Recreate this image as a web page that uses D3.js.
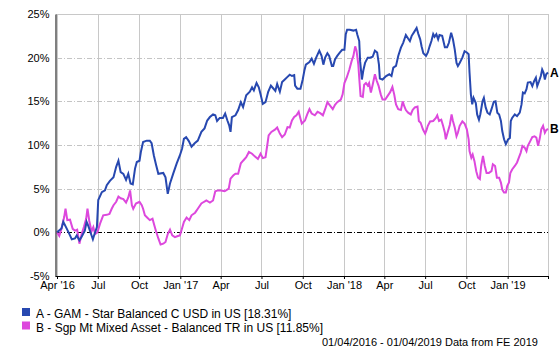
<!DOCTYPE html>
<html><head><meta charset="utf-8">
<script src="https://cdn.jsdelivr.net/npm/d3@7"></script>
<style>
body{margin:0;background:#fff;}
svg{display:block;font-family:"Liberation Sans",Arial,sans-serif;}
</style></head>
<body><svg id="c" width="559" height="357"></svg>
<script>
// ---- data ----
const seriesNames = ["A - GAM - Star Balanced C USD in US [18.31%]", "B - Sgp Mt Mixed Asset - Balanced TR in US [11.85%]"];
const seriesLetters = ["A", "B"];
const yTicks = [-5, 0, 5, 10, 15, 20, 25];
const xTickDates = ["2016-04-01","2016-07-01","2016-10-01","2017-01-01","2017-04-01","2017-07-01","2017-10-01","2018-01-01","2018-04-01","2018-07-01","2018-10-01","2019-01-01","2019-04-01"];
const xTickLabels = ["Apr '16","Jul","Oct","Jan '17","Apr","Jul","Oct","Jan '18","Apr","Jul","Oct","Jan '19",""];
const footerText = "01/04/2016 - 01/04/2019 Data from FE 2019";

const seriesA = [
["2016-04-01",0],["2016-04-11",0.45],["2016-04-15",1.2],["2016-04-23",0.4],["2016-04-30",-0.35],["2016-05-04",-0.8],["2016-05-11",-0.7],["2016-05-15",-0.35],["2016-05-21",-0.9],["2016-05-26",-0.5],
["2016-06-02",0.2],["2016-06-06",1.2],["2016-06-10",0.7],["2016-06-14",0.1],["2016-06-20",-0.8],["2016-06-23",-0.3],["2016-06-29",0.6],["2016-07-02",3.7],["2016-07-10",4.6],["2016-07-17",4.8],
["2016-07-21",5.4],["2016-07-28",5.9],["2016-08-05",6.3],["2016-08-11",7.5],["2016-08-16",8.2],["2016-08-21",6.9],["2016-08-27",6.7],["2016-09-02",6.0],["2016-09-07",6.7],["2016-09-12",5.6],
["2016-09-17",5.5],["2016-09-22",7.3],["2016-09-26",8.05],["2016-10-02",8.2],["2016-10-05",9.2],["2016-10-10",10.35],["2016-10-18",10.5],["2016-10-25",10.5],["2016-10-29",10.2],["2016-11-03",8.8],
["2016-11-08",7.7],["2016-11-13",6.7],["2016-11-24",6.8],["2016-11-29",6.3],["2016-12-04",4.4],["2016-12-09",5.6],["2016-12-16",6.7],["2016-12-24",7.9],["2016-12-31",8.8],["2017-01-05",9.6],
["2017-01-09",10.7],["2017-01-14",10.9],["2017-01-20",10.45],["2017-01-26",9.8],["2017-02-02",10.2],["2017-02-09",10.5],["2017-02-17",11.5],["2017-02-24",11.9],["2017-03-02",12.8],["2017-03-08",13.2],
["2017-03-15",13.5],["2017-03-20",13.4],["2017-03-24",12.75],["2017-03-30",13.1],["2017-04-06",13.1],["2017-04-11",13.6],["2017-04-16",12.8],["2017-04-20",12.25],["2017-04-23",11.5],["2017-04-26",13.2],
["2017-05-04",13.4],["2017-05-10",14.0],["2017-05-16",14.9],["2017-05-21",14.35],["2017-05-28",15.7],["2017-06-05",16.1],["2017-06-10",16.6],["2017-06-14",16.25],["2017-06-20",17.1],["2017-06-25",16.6],
["2017-06-29",15.8],["2017-07-04",14.7],["2017-07-10",14.9],["2017-07-16",16.1],["2017-07-22",16.8],["2017-07-27",16.5],["2017-08-01",16.2],["2017-08-05",17.0],["2017-08-11",16.1],["2017-08-16",17.2],
["2017-08-22",17.5],["2017-08-28",17.8],["2017-09-02",18.05],["2017-09-07",17.9],["2017-09-12",18.0],["2017-09-14",16.8],["2017-09-19",16.45],["2017-09-26",16.45],["2017-10-01",17.5],["2017-10-05",18.6],
["2017-10-08",19.2],["2017-10-16",19.5],["2017-10-21",19.9],["2017-10-26",19.3],["2017-10-31",20.0],["2017-11-07",20.8],["2017-11-12",20.2],["2017-11-16",19.2],["2017-11-20",20.0],["2017-11-25",20.5],
["2017-11-29",20.2],["2017-12-05",19.05],["2017-12-08",19.05],["2017-12-12",19.8],["2017-12-17",20.2],["2017-12-23",20.6],["2017-12-28",20.9],["2018-01-02",20.9],["2018-01-05",22.7],["2018-01-08",23.2],
["2018-01-14",23.2],["2018-01-22",23.1],["2018-01-28",23.2],["2018-01-31",22.6],["2018-02-04",21.9],["2018-02-06",19.6],["2018-02-10",17.5],["2018-02-13",18.5],["2018-02-17",19.4],["2018-02-23",20.0],
["2018-02-28",20.0],["2018-03-06",20.1],["2018-03-11",20.8],["2018-03-16",20.6],["2018-03-20",19.2],["2018-03-22",17.6],["2018-03-28",17.5],["2018-04-05",17.9],["2018-04-12",18.1],["2018-04-17",17.9],
["2018-04-21",18.85],["2018-04-27",19.05],["2018-05-02",20.2],["2018-05-08",21.15],["2018-05-13",21.7],["2018-05-19",22.6],["2018-05-24",22.2],["2018-05-28",21.9],["2018-06-01",22.5],["2018-06-06",22.9],
["2018-06-12",23.4],["2018-06-16",22.7],["2018-06-20",22.1],["2018-06-23",21.3],["2018-06-27",20.5],["2018-07-03",20.2],["2018-07-07",20.6],["2018-07-11",21.3],["2018-07-15",21.9],["2018-07-19",22.7],
["2018-07-22",22.4],["2018-07-26",22.7],["2018-07-30",22.1],["2018-08-02",22.6],["2018-08-08",22.5],["2018-08-14",21.2],["2018-08-19",21.2],["2018-08-23",21.7],["2018-08-28",22.85],["2018-09-01",22.1],
["2018-09-05",20.95],["2018-09-09",19.4],["2018-09-12",19.05],["2018-09-16",19.4],["2018-09-22",20.0],["2018-09-27",20.75],["2018-10-02",20.6],["2018-10-06",20.4],["2018-10-08",18.3],["2018-10-11",15.8],
["2018-10-14",14.65],["2018-10-17",15.4],["2018-10-22",14.8],["2018-10-25",13.5],["2018-10-29",12.9],["2018-11-01",13.5],["2018-11-06",15.0],["2018-11-09",15.4],["2018-11-13",14.3],["2018-11-17",13.7],
["2018-11-22",13.5],["2018-11-26",14.1],["2018-12-01",14.95],["2018-12-05",15.0],["2018-12-09",13.7],["2018-12-13",13.5],["2018-12-17",12.75],["2018-12-20",11.6],["2018-12-24",10.65],["2018-12-28",10.1],
["2019-01-02",10.65],["2019-01-06",10.8],["2019-01-08",12.75],["2019-01-11",13.1],["2019-01-17",13.5],["2019-01-22",13.3],["2019-01-28",13.7],["2019-02-01",14.65],["2019-02-04",16.0],["2019-02-08",15.9],
["2019-02-12",16.4],["2019-02-15",17.15],["2019-02-21",17.2],["2019-02-25",16.75],["2019-03-01",17.3],["2019-03-05",17.7],["2019-03-08",16.75],["2019-03-12",17.3],["2019-03-16",17.9],["2019-03-19",18.65],
["2019-03-22",18.3],["2019-03-25",17.5],["2019-03-28",18.1],["2019-04-01",18.31]
];

const seriesB = [
["2016-04-01",0],["2016-04-06",-0.4],["2016-04-11",0.4],["2016-04-17",1.75],["2016-04-20",2.7],["2016-04-24",1.4],["2016-04-30",1.45],["2016-05-06",0.4],["2016-05-11",0.2],["2016-05-16",0.3],
["2016-05-21",-1.3],["2016-05-26",-0.2],["2016-05-31",0.6],["2016-06-05",1.55],["2016-06-08",2.7],["2016-06-12",1.3],["2016-06-17",0.1],["2016-06-21",0.6],["2016-06-25",-0.2],["2016-06-30",0],
["2016-07-06",1.0],["2016-07-13",1.95],["2016-07-21",2.0],["2016-07-27",2.1],["2016-08-01",2.7],["2016-08-05",3.1],["2016-08-11",3.5],["2016-08-16",4.1],["2016-08-21",3.9],["2016-08-27",3.8],
["2016-09-02",3.4],["2016-09-07",4.0],["2016-09-11",4.8],["2016-09-15",3.1],["2016-09-18",2.7],["2016-09-24",3.3],["2016-10-02",3.5],["2016-10-07",3.1],["2016-10-10",2.7],["2016-10-14",1.95],
["2016-10-19",1.7],["2016-10-25",1.4],["2016-10-31",1.55],["2016-11-04",0.8],["2016-11-08",0.1],["2016-11-13",-0.7],["2016-11-18",-1.4],["2016-11-24",-1.3],["2016-11-29",-1.1],["2016-12-04",-0.2],
["2016-12-09",0.3],["2016-12-14",-0.35],["2016-12-20",-0.55],["2016-12-25",-0.45],["2016-12-31",-0.35],["2017-01-04",0.3],["2017-01-09",1.2],["2017-01-15",1.7],["2017-01-21",1.4],["2017-01-26",1.95],
["2017-02-03",2.25],["2017-02-09",2.7],["2017-02-17",3.3],["2017-02-23",3.5],["2017-02-28",3.65],["2017-03-08",3.4],["2017-03-15",3.65],["2017-03-20",4.7],["2017-03-26",4.8],["2017-04-02",4.8],
["2017-04-10",4.7],["2017-04-19",5.0],["2017-04-23",6.15],["2017-04-29",6.5],["2017-05-04",6.7],["2017-05-10",6.7],["2017-05-16",7.9],["2017-05-21",8.2],["2017-05-28",8.6],["2017-06-03",9.2],
["2017-06-10",9.0],["2017-06-16",8.7],["2017-06-23",8.4],["2017-06-29",9.0],["2017-07-04",8.5],["2017-07-10",8.6],["2017-07-14",10.0],["2017-07-17",11.1],["2017-07-23",11.5],["2017-07-31",11.75],
["2017-08-05",12.0],["2017-08-11",11.3],["2017-08-16",10.9],["2017-08-22",11.2],["2017-08-28",12.05],["2017-09-02",12.0],["2017-09-07",12.8],["2017-09-12",13.2],["2017-09-17",13.4],["2017-09-22",13.8],
["2017-09-26",13.0],["2017-09-29",12.45],["2017-10-06",12.8],["2017-10-11",13.5],["2017-10-16",14.1],["2017-10-21",13.6],["2017-10-28",13.4],["2017-11-03",13.8],["2017-11-09",13.65],["2017-11-15",13.4],
["2017-11-20",14.1],["2017-11-25",14.9],["2017-12-01",14.5],["2017-12-07",14.1],["2017-12-12",14.6],["2017-12-17",14.9],["2017-12-25",15.2],["2017-12-29",15.8],["2018-01-02",17.1],["2018-01-07",17.7],
["2018-01-13",18.65],["2018-01-18",19.6],["2018-01-22",20.2],["2018-01-26",21.3],["2018-01-29",20.8],["2018-02-02",19.2],["2018-02-04",17.7],["2018-02-07",15.6],["2018-02-12",15.5],["2018-02-15",16.9],
["2018-02-19",17.1],["2018-02-23",16.8],["2018-02-26",17.1],["2018-03-02",16.0],["2018-03-06",16.9],["2018-03-11",18.1],["2018-03-15",17.35],["2018-03-19",16.8],["2018-03-24",15.8],["2018-03-28",15.2],
["2018-04-03",15.2],["2018-04-08",15.6],["2018-04-14",16.05],["2018-04-19",16.65],["2018-04-23",15.8],["2018-04-27",14.65],["2018-05-02",14.1],["2018-05-08",14.0],["2018-05-12",15.0],["2018-05-15",14.5],
["2018-05-19",14.0],["2018-05-24",13.7],["2018-05-30",13.5],["2018-06-03",14.0],["2018-06-08",14.3],["2018-06-14",14.4],["2018-06-17",12.75],["2018-06-21",12.55],["2018-06-26",11.8],["2018-07-01",11.3],
["2018-07-04",11.7],["2018-07-07",12.2],["2018-07-12",12.7],["2018-07-19",12.75],["2018-07-25",13.1],["2018-07-28",13.4],["2018-08-01",12.75],["2018-08-06",12.9],["2018-08-10",12.2],["2018-08-14",11.4],
["2018-08-16",10.65],["2018-08-20",11.4],["2018-08-25",12.3],["2018-08-29",13.5],["2018-09-01",12.75],["2018-09-05",12.0],["2018-09-09",11.0],["2018-09-12",11.4],["2018-09-16",12.2],["2018-09-22",12.7],
["2018-09-27",12.45],["2018-10-02",11.8],["2018-10-06",10.65],["2018-10-08",9.3],["2018-10-12",8.55],["2018-10-15",8.9],["2018-10-19",8.15],["2018-10-23",7.0],["2018-10-27",6.25],["2018-10-31",6.1],
["2018-11-03",7.6],["2018-11-07",8.75],["2018-11-11",7.6],["2018-11-15",6.8],["2018-11-20",6.8],["2018-11-26",7.0],["2018-11-29",7.8],["2018-12-04",7.6],["2018-12-08",6.25],["2018-12-13",6.25],
["2018-12-17",5.7],["2018-12-20",4.9],["2018-12-24",4.55],["2018-12-28",4.55],["2018-12-31",5.3],["2019-01-04",5.7],["2019-01-07",6.8],["2019-01-11",7.2],["2019-01-17",7.6],["2019-01-22",8.0],
["2019-01-26",8.55],["2019-01-30",9.1],["2019-02-03",9.9],["2019-02-08",9.7],["2019-02-12",9.3],["2019-02-15",9.9],["2019-02-21",10.5],["2019-02-25",10.9],["2019-03-02",11.0],["2019-03-06",10.85],
["2019-03-10",9.9],["2019-03-14",10.85],["2019-03-17",11.8],["2019-03-21",12.2],["2019-03-25",11.4],["2019-03-28",11.7],["2019-04-01",11.85]
];

// ---- drawing ----
const colors = ["#2748b0", "#dd48dd"];
const parse = d3.timeParse("%Y-%m-%d");
const svg = d3.select("#c");
const L = 57, R = 548, T = 14, B = 276;

const x = d3.scaleTime().domain([parse("2016-04-01"), parse("2019-04-01")]).range([L, R]);
const y = d3.scaleLinear().domain([-5, 25]).range([B, T]);

// vertical grid
svg.append("g").selectAll("line").data(xTickDates).join("line")
  .attr("x1", d => Math.round(x(parse(d))) + 0.5).attr("x2", d => Math.round(x(parse(d))) + 0.5)
  .attr("y1", T).attr("y2", B)
  .attr("stroke", "#c8c8c8").attr("stroke-width", 1);

// horizontal grid
svg.append("g").selectAll("line").data(yTicks.filter(v => v !== 0 && v !== -5 && v !== 25)).join("line")
  .attr("x1", L).attr("x2", R)
  .attr("y1", d => Math.round(y(d)) + 0.5).attr("y2", d => Math.round(y(d)) + 0.5)
  .attr("stroke", "#c4c4c4").attr("stroke-dasharray", "5,2,1,2");

// top border
svg.append("line").attr("x1", L - 1).attr("x2", R + 1).attr("y1", Math.round(y(25)) + 0.5).attr("y2", Math.round(y(25)) + 0.5)
  .attr("stroke", "#c8c8c8");

// zero line
svg.append("line").attr("x1", L).attr("x2", R).attr("y1", Math.round(y(0)) + 0.5).attr("y2", Math.round(y(0)) + 0.5)
  .attr("stroke", "#000").attr("stroke-dasharray", "5,2,1,2");

// lines
const line = d3.line().x(d => x(parse(d[0]))).y(d => y(d[1]));
[seriesA, seriesB].slice().reverse().forEach((s, i) => {
  const idx = 1 - i;
  svg.append("path").datum(s).attr("d", line)
    .attr("fill", "none").attr("stroke", colors[idx]).attr("stroke-width", 2)
    .attr("stroke-linejoin", "miter");
});

// axes
const xAxis = d3.axisBottom(x).tickValues(xTickDates.map(parse))
  .tickFormat((d, i) => xTickLabels[i]).tickSize(3).tickSizeOuter(0).tickPadding(2);
const gx = svg.append("g").attr("transform", `translate(0,${B})`).call(xAxis);
gx.select(".domain").attr("d", `M${L - 1.5},0.5H${R + 0.5}`).attr("stroke", "#000");
gx.selectAll(".tick line").attr("stroke", "#000");
gx.selectAll("text").attr("font-size", 11).attr("font-family", "Liberation Sans, Arial, sans-serif").attr("fill", "#000");

const yAxis = d3.axisLeft(y).tickValues(yTicks).tickFormat(d => d + "%").tickSize(0).tickPadding(6);
const gy = svg.append("g").attr("transform", `translate(${L - 1.5},0)`).call(yAxis);
gy.select(".domain").attr("stroke", "#000");
gy.selectAll("text").attr("font-size", 11).attr("font-family", "Liberation Sans, Arial, sans-serif").attr("fill", "#000");

// end labels
[seriesA, seriesB].forEach((s, i) => {
  const last = s[s.length - 1];
  svg.append("text").attr("x", R + 2).attr("y", y(last[1]) + 4.5)
    .attr("font-size", 12).attr("font-weight", "bold").attr("fill", "#000")
    .text(seriesLetters[i]);
});

// legend
seriesNames.forEach((n, i) => {
  const ly = 308 + i * 13.5;
  svg.append("rect").attr("x", 22).attr("y", ly).attr("width", 8).attr("height", 8).attr("fill", colors[i]);
  svg.append("text").attr("x", 36).attr("y", ly + 10).attr("font-size", 12).attr("fill", "#000").text(n);
});

// footer
svg.append("text").attr("x", 322).attr("y", 346).attr("font-size", 11).attr("fill", "#000").text(footerText);
</script>
</body></html>
